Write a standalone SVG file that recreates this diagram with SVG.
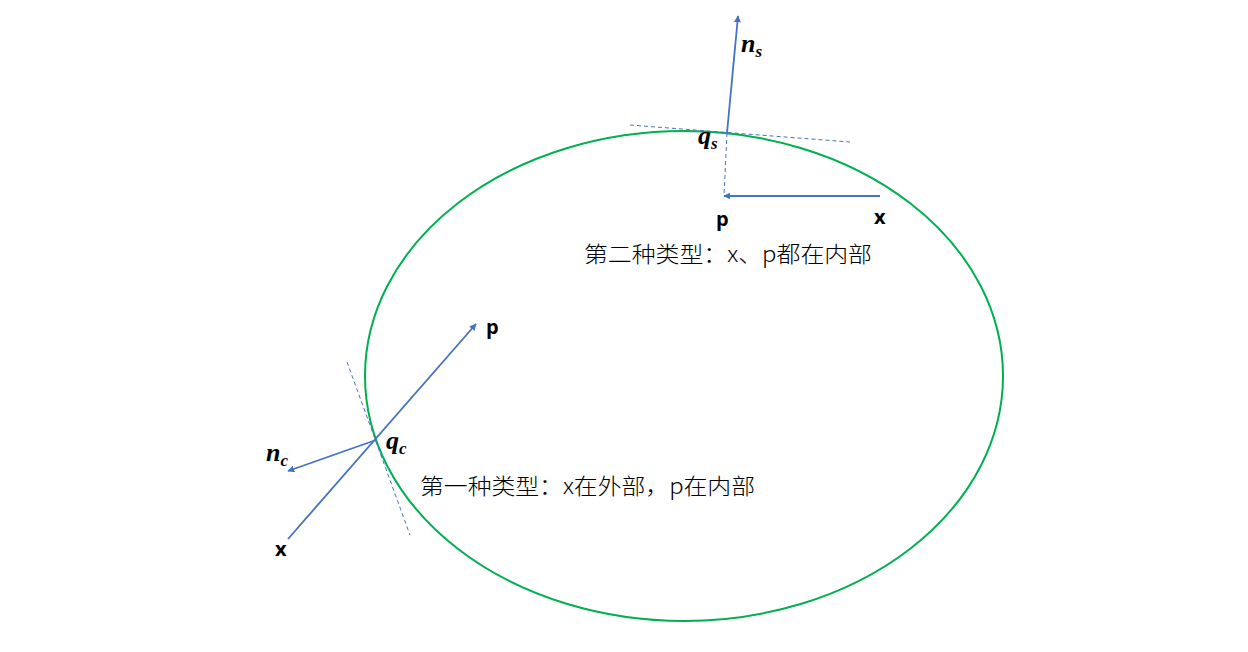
<svg xmlns="http://www.w3.org/2000/svg" width="1248" height="652" viewBox="0 0 1248 652">
<defs>
<marker id="ah" viewBox="0 0 10 10" refX="9" refY="5" markerWidth="7" markerHeight="7" orient="auto" markerUnits="userSpaceOnUse">
<path d="M0,0 L10,5 L0,10 Z" fill="#4472C4"/>
</marker>
<style>
.ln{stroke:#4472C4;stroke-width:1.8;fill:none}
.ds{stroke:#4472C4;stroke-width:1;fill:none;stroke-dasharray:4,3}
.lbl{font-family:"Open Sans","Liberation Sans",sans-serif;font-weight:bold;font-size:20px;fill:#000}
.m{font-family:"Liberation Serif",serif;font-weight:bold;font-style:italic;font-size:26px;fill:#000}
.sub{font-size:17px}
.cn{font-family:"Noto Sans CJK SC",sans-serif;font-weight:300;font-size:22px;fill:#000}
</style>
</defs>
<rect width="1248" height="652" fill="#fff"/>
<g id="ellipse">
<ellipse cx="684" cy="376" rx="319" ry="245" fill="none" stroke="#00B050" stroke-width="2"/>
</g>
<g id="connectors">
<line class="ln" x1="727" y1="133" x2="738" y2="16" marker-end="url(#ah)"/>
<line class="ds" x1="630" y1="125" x2="850" y2="142"/>
<line class="ds" x1="727" y1="133" x2="724" y2="196"/>
<line class="ln" x1="880" y1="196" x2="724" y2="196" marker-end="url(#ah)"/>
<line class="ln" x1="288" y1="539" x2="476" y2="324" marker-end="url(#ah)"/>
<line class="ln" x1="376" y1="440" x2="288" y2="471" marker-end="url(#ah)"/>
<line class="ds" x1="347" y1="362" x2="410" y2="535"/>
</g>
<g id="type2">
<text class="m" x="741" y="52">n<tspan class="sub" dy="5">s</tspan></text>
<text class="m" x="698" y="144">q<tspan class="sub" dy="5">s</tspan></text>
<text class="lbl" x="716" y="226">p</text>
<text class="lbl" x="874" y="224">x</text>
<text class="cn" x="584" y="262" textLength="288" lengthAdjust="spacingAndGlyphs">第二种类型：x、p都在内部</text>
</g>
<g id="type1">
<text class="lbl" x="486" y="334">p</text>
<text class="lbl" x="275" y="556">x</text>
<text class="m" x="266" y="461">n<tspan class="sub" dy="5">c</tspan></text>
<text class="m" x="386" y="449">q<tspan class="sub" dy="5">c</tspan></text>
<text class="cn" x="420" y="494" textLength="335" lengthAdjust="spacingAndGlyphs">第一种类型：x在外部，p在内部</text>
</g>
</svg>
